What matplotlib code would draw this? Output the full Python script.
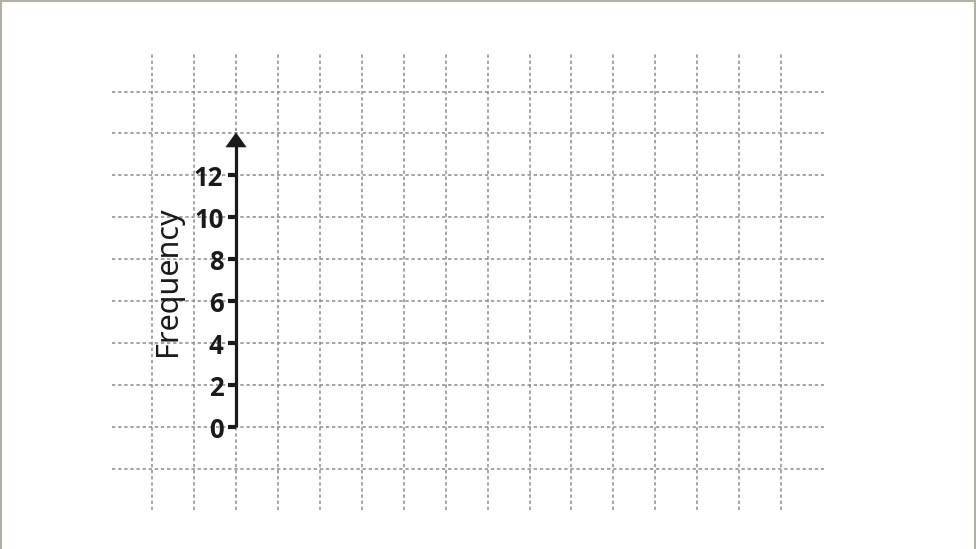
import matplotlib
import matplotlib.pyplot as plt
import numpy as np

plt.switch_backend('agg')

# grid positions, in axis units (x: one cell per unit, y: two frequency per cell)
grid_x = np.arange(-2, 14)
grid_y = np.arange(-2, 17, 2)
tick_vals = [0, 2, 4, 6, 8, 10, 12]
tick_labels = ['0', '2', '4', '6', '8', '10', '12']
axis_label = 'Frequency'

# pixel mapping of the reference
px_x0 = 236.0      # pixel column of x=0
px_y0 = 427.0      # pixel row of y=0
cell = 41.93       # pixels per grid cell
W, H = 976, 549

fig = plt.figure(figsize=(W / 100, H / 100), dpi=100)
ax = fig.add_axes([0, 0, 1, 1])
ax.set_xlim(-px_x0 / cell, (W - px_x0) / cell)
ax.set_ylim((px_y0 - H) / (cell / 2), px_y0 / (cell / 2))
ax.axis('off')

grid_col = '#8c8c8c'
dash = (0, (2.2, 1.8))
ax.vlines(grid_x, -3.96, 17.9, colors=grid_col, linewidth=1.1, linestyles=[dash])
ax.hlines(grid_y, -2.95, 14.02, colors=grid_col, linewidth=1.1, linestyles=[dash])

ink = '#1a1a1a'
# vertical axis with arrow
ax.plot([0, 0], [0, 13.4], color=ink, linewidth=2.3, solid_capstyle='butt', zorder=3)
ax.annotate('', xy=(0, 14.05), xytext=(0, 13.0),
            arrowprops=dict(arrowstyle='-|>,head_length=1.05,head_width=0.75',
                            color=ink, lw=0.1, shrinkA=0, shrinkB=0), zorder=4)
# ticks
for v in tick_vals:
    ax.plot([-0.2, 0], [v, v], color=ink, linewidth=3, solid_capstyle='butt', zorder=3)
for v, lab in zip(tick_vals, tick_labels):
    ax.text(-0.3, v, lab, ha='right', va='center_baseline', fontsize=18.5,
            fontweight='bold', color=ink, family='Open Sans', zorder=4)

ax.text(-1.62, 6.96, axis_label, rotation=90, ha='center', va='center',
        fontsize=22, color=ink, family='Noto Sans')

# thin frame round the picture (top, left, right)
bc = '#b5aea6'
fig.add_artist(plt.Line2D([0.001, 0.001], [0, 1], color=bc, lw=1.5, transform=fig.transFigure))
fig.add_artist(plt.Line2D([0.999, 0.999], [0, 1], color=bc, lw=1.5, transform=fig.transFigure))
fig.add_artist(plt.Line2D([0, 1], [0.998, 0.998], color=bc, lw=1.5, transform=fig.transFigure))

plt.savefig('out.png', dpi=100)
